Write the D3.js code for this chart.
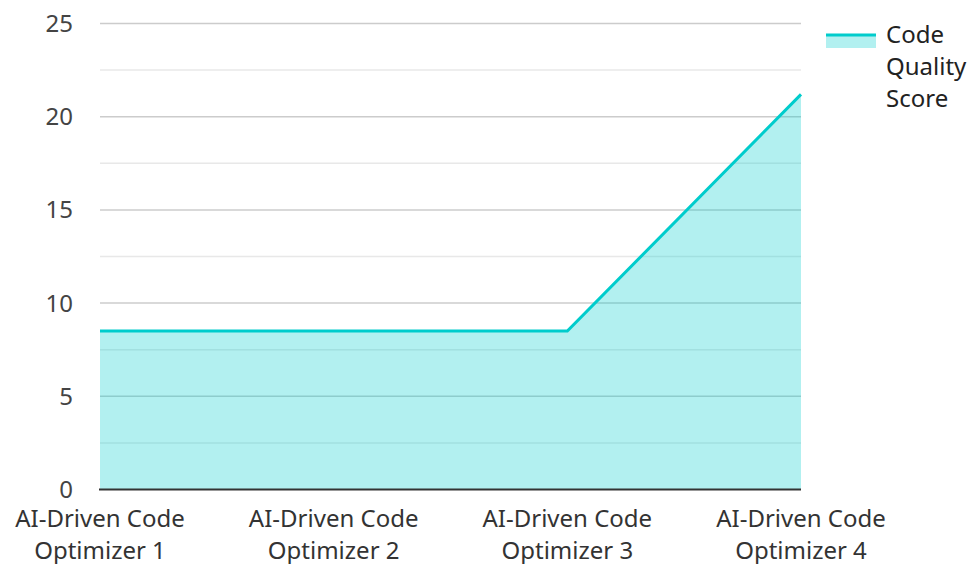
<!DOCTYPE html>
<html><head><meta charset="utf-8">
<script src="https://cdn.jsdelivr.net/npm/d3@7"></script>
<style>body{margin:0;background:#fff;}svg{display:block;font-family:"Noto Sans","Open Sans",sans-serif;}</style>
</head><body><svg id="c" width="971" height="564"></svg>
<script>
const categories = ["AI-Driven Code Optimizer 1","AI-Driven Code Optimizer 2","AI-Driven Code Optimizer 3","AI-Driven Code Optimizer 4"];
const scores = [8.5, 8.5, 8.5, 21.2];
const yTicks = [0, 5, 10, 15, 20, 25];
const yMinorTicks = [2.5, 7.5, 12.5, 17.5, 22.5];
const seriesName = "Code Quality Score";

(function(){
const svg = d3.select("#c");
const pLeft = 100, pRight = 801, pTop = 23.5, pBottom = 489.5;
const x = d3.scalePoint().domain(categories).range([pLeft, pRight]);
const y = d3.scaleLinear().domain([0, 25]).range([pBottom, pTop]);
const lineColor = "#00cccc";
const fs = 24;

// grid
svg.append("g").selectAll("line").data(yMinorTicks).join("line")
  .attr("x1", pLeft).attr("x2", pRight).attr("y1", d => y(d)).attr("y2", d => y(d))
  .attr("stroke", "#e8e8e8").attr("stroke-width", 1.5);
svg.append("g").selectAll("line").data(yTicks.filter(d => d > 0)).join("line")
  .attr("x1", pLeft).attr("x2", pRight).attr("y1", d => y(d)).attr("y2", d => y(d))
  .attr("stroke", "#cccccc").attr("stroke-width", 1.5);

// area
const data = categories.map((c, i) => ({c, v: scores[i]}));
svg.append("path").datum(data)
  .attr("d", d3.area().x(d => x(d.c)).y0(y(0)).y1(d => y(d.v)))
  .attr("fill", lineColor).attr("fill-opacity", 0.3);
svg.append("path").datum(data)
  .attr("d", d3.line().x(d => x(d.c)).y(d => y(d.v)))
  .attr("fill", "none").attr("stroke", lineColor).attr("stroke-width", 3);

// x axis line
svg.append("line").attr("x1", pLeft - 1).attr("x2", pRight).attr("y1", y(0)).attr("y2", y(0))
  .attr("stroke", "#333").attr("stroke-width", 2);

// y labels
svg.append("g").selectAll("text").data(yTicks).join("text")
  .attr("x", 73).attr("y", d => y(d)).attr("dy", "0.35em").attr("text-anchor", "end")
  .attr("font-size", fs).attr("fill", "#444").text(d => d);

// x labels
const xl = svg.append("g").selectAll("text").data(categories).join("text")
  .attr("text-anchor", "middle").attr("font-size", fs).attr("fill", "#333")
  .attr("transform", d => `translate(${x(d)},0)`);
xl.each(function(d) {
  const words = d.split(" ");
  const l1 = words.slice(0, 2).join(" "), l2 = words.slice(2).join(" ");
  d3.select(this).append("tspan").attr("x", 0).attr("y", 519).attr("dy", "0.35em").text(l1);
  d3.select(this).append("tspan").attr("x", 0).attr("y", 551).attr("dy", "0.35em").text(l2);
});

// legend
const lg = svg.append("g");
lg.append("rect").attr("x", 826).attr("y", 35).attr("width", 50).attr("height", 13)
  .attr("fill", lineColor).attr("fill-opacity", 0.3);
lg.append("line").attr("x1", 826).attr("x2", 876).attr("y1", 35).attr("y2", 35)
  .attr("stroke", lineColor).attr("stroke-width", 3);
const lt = lg.append("text").attr("font-size", fs).attr("fill", "#222");
seriesName.split(" ").forEach((w, i) => {
  lt.append("tspan").attr("x", 886).attr("y", 35 + i * 32).attr("dy", "0.35em").text(w);
});
})();
</script></body></html>
